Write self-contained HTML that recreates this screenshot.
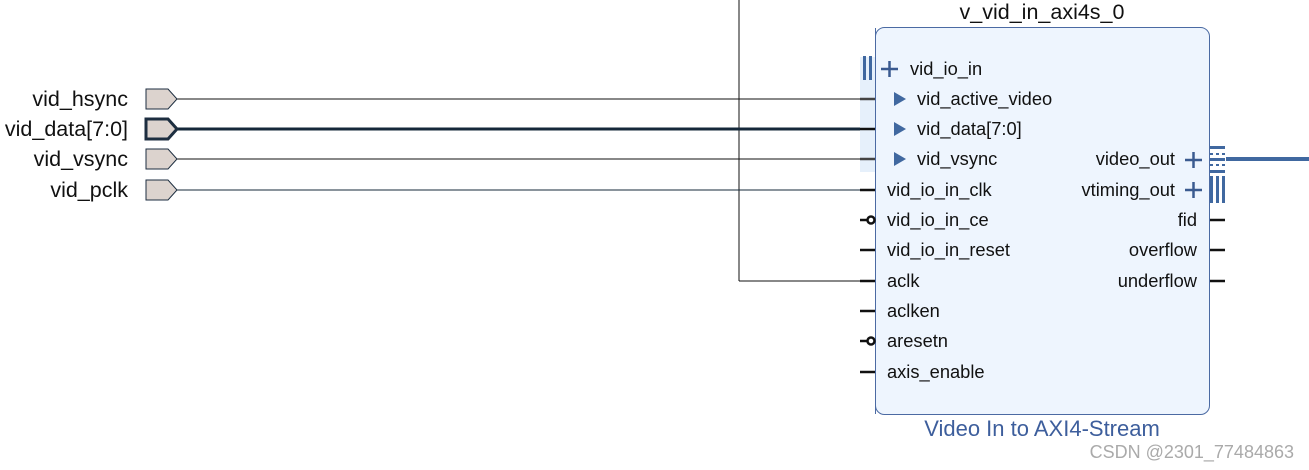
<!DOCTYPE html>
<html><head><meta charset="utf-8"><style>
html,body{margin:0;padding:0;background:#fff;width:1309px;height:470px;overflow:hidden}
text{font-family:"Liberation Sans",Arial,sans-serif;fill:#111}
</style></head><body>
<svg width="1309" height="470" viewBox="0 0 1309 470" xmlns="http://www.w3.org/2000/svg">
<line x1="739" y1="0" x2="739" y2="281" stroke="#111" stroke-width="1"/>
<line x1="739" y1="281" x2="862" y2="281" stroke="#111" stroke-width="1"/>
<line x1="177" y1="99" x2="862" y2="99" stroke="#111" stroke-width="1"/>
<line x1="177" y1="129" x2="862" y2="129" stroke="#15283a" stroke-width="3"/>
<line x1="177" y1="159" x2="862" y2="159" stroke="#111" stroke-width="1"/>
<line x1="177" y1="190" x2="862" y2="190" stroke="#15283a" stroke-width="1"/>
<g fill="#dcd3ce" stroke="#1d2e40" stroke-width="1">
<polygon points="146,89 168,89 177,99 168,109 146,109"/>
<polygon points="146,119 168,119 177,129 168,139 146,139" stroke-width="3"/>
<polygon points="146,149 168,149 177,159 168,169 146,169"/>
<polygon points="146,180 168,180 177,190 168,200 146,200"/>
</g>
<g text-anchor="end" font-size="21.5">
<text x="128" y="106">vid_hsync</text>
<text x="128" y="136">vid_data[7:0]</text>
<text x="128" y="166">vid_vsync</text>
<text x="128" y="197">vid_pclk</text>
</g>
<text x="1042" y="19" text-anchor="middle" font-size="21.5">v_vid_in_axi4s_0</text>
<rect x="875.5" y="27.5" width="334" height="387" rx="9" fill="#eef5fe" stroke="#4b6aa3" stroke-width="1"/>
<rect x="860" y="57" width="15" height="115" fill="#e6f0fb"/>
<rect x="863" y="56" width="3" height="24" fill="#4068a0"/>
<rect x="869" y="56" width="3" height="24" fill="#4068a0"/>
<line x1="875.5" y1="28" x2="875.5" y2="414" stroke="#4b6aa3"/>
<g stroke="#3a5a90" stroke-width="2.5">
<line x1="881" y1="69" x2="898" y2="69"/><line x1="889.5" y1="61" x2="889.5" y2="77"/>
<line x1="1185" y1="160" x2="1202" y2="160"/><line x1="1193.5" y1="152" x2="1193.5" y2="168"/>
<line x1="1185" y1="190" x2="1202" y2="190"/><line x1="1193.5" y1="182" x2="1193.5" y2="198"/>
</g>
<g fill="#4068a0">
<polygon points="894,92 906,99 894,106"/>
<polygon points="894,122 906,129 894,136"/>
<polygon points="894,152 906,159 894,166"/>
</g>
<g stroke="#111" stroke-width="2.5">
<line x1="860" y1="99" x2="875" y2="99" stroke="#444"/>
<line x1="860" y1="129" x2="875" y2="129"/>
<line x1="860" y1="159" x2="875" y2="159" stroke="#444"/>
<line x1="860" y1="190" x2="875" y2="190"/>
<line x1="860" y1="220" x2="868" y2="220"/>
<line x1="860" y1="250" x2="875" y2="250"/>
<line x1="860" y1="281" x2="875" y2="281"/>
<line x1="860" y1="311" x2="875" y2="311"/>
<line x1="860" y1="341" x2="868" y2="341"/>
<line x1="860" y1="372" x2="875" y2="372"/>
<line x1="1210" y1="220" x2="1225" y2="220"/>
<line x1="1210" y1="250" x2="1225" y2="250"/>
<line x1="1210" y1="281" x2="1225" y2="281"/>
</g>
<circle cx="871" cy="220" r="3.5" fill="#fff" stroke="#111" stroke-width="2.5"/>
<circle cx="871" cy="341" r="3.5" fill="#fff" stroke="#111" stroke-width="2.5"/>
<g font-size="18.3">
<text x="910" y="75">vid_io_in</text>
<text x="917" y="105">vid_active_video</text>
<text x="917" y="135">vid_data[7:0]</text>
<text x="917" y="165">vid_vsync</text>
<text x="887" y="196">vid_io_in_clk</text>
<text x="887" y="226">vid_io_in_ce</text>
<text x="887" y="256">vid_io_in_reset</text>
<text x="887" y="287">aclk</text>
<text x="887" y="317">aclken</text>
<text x="887" y="347">aresetn</text>
<text x="887" y="378">axis_enable</text>
<g text-anchor="end">
<text x="1175" y="165">video_out</text>
<text x="1175" y="196">vtiming_out</text>
<text x="1197" y="226">fid</text>
<text x="1197" y="256">overflow</text>
<text x="1197" y="287">underflow</text>
</g>
</g>
<g fill="#4068a0">
<rect x="1210" y="146" width="15" height="3"/>
<rect x="1210" y="153" width="3" height="2"/><rect x="1216" y="153" width="3" height="2"/><rect x="1222" y="153" width="3" height="2"/>
<rect x="1210" y="158" width="15" height="3"/>
<rect x="1210" y="164" width="3" height="2"/><rect x="1216" y="164" width="3" height="2"/><rect x="1222" y="164" width="3" height="2"/>
<rect x="1210" y="170" width="15" height="3"/>
<rect x="1210" y="176" width="3" height="27"/><rect x="1216" y="176" width="3" height="27"/><rect x="1222" y="176" width="3" height="27"/>
<rect x="1226" y="157" width="83" height="4"/>
</g>
<text x="1042" y="436" text-anchor="middle" font-size="22" style="fill:#3d5e9c">Video In to AXI4-Stream</text>
<text x="1294" y="458" text-anchor="end" font-size="18" style="fill:#aaa">CSDN @2301_77484863</text>
</svg>
</body></html>
